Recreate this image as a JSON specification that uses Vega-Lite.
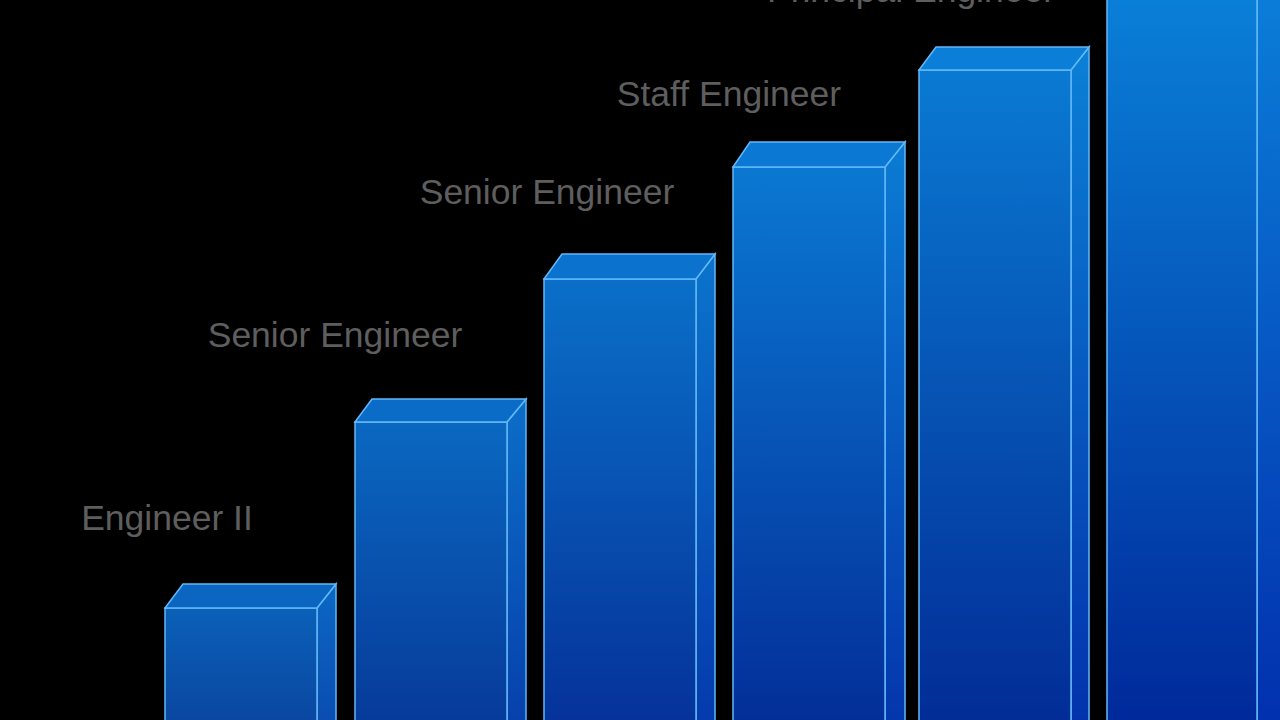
{
 "$schema":"https://vega.github.io/schema/vega-lite/v6.json",
 "width":1280,"height":720,
 "autosize":{"type":"none"},
 "padding":0,
 "background":"#000000",
 "config":{"view":{"stroke":null}},
 "datasets":{
  "front":[
   {"bar":"b1","left":165,"right":317,"top":112,"base":-5},
   {"bar":"b2","left":355,"right":507,"top":298,"base":-5},
   {"bar":"b3","left":544,"right":696,"top":441,"base":-5},
   {"bar":"b4","left":733,"right":885,"top":553,"base":-5},
   {"bar":"b5","left":919,"right":1071,"top":650,"base":-5},
   {"bar":"b6","left":1107,"right":1257,"top":745,"base":-5}
  ],
  "faces":[
   {"bar":"b1","x":165,"y":112,"y2":112},{"bar":"b1","x":183,"y":136,"y2":112},{"bar":"b1","x":317,"y":136,"y2":112},{"bar":"b1","x":336,"y":136,"y2":136},
   {"bar":"b2","x":355,"y":298,"y2":298},{"bar":"b2","x":372,"y":321,"y2":298},{"bar":"b2","x":507,"y":321,"y2":298},{"bar":"b2","x":526,"y":321,"y2":321},
   {"bar":"b3","x":544,"y":441,"y2":441},{"bar":"b3","x":562,"y":466,"y2":441},{"bar":"b3","x":696,"y":466,"y2":441},{"bar":"b3","x":715,"y":466,"y2":466},
   {"bar":"b4","x":733,"y":553,"y2":553},{"bar":"b4","x":750,"y":578,"y2":553},{"bar":"b4","x":885,"y":578,"y2":553},{"bar":"b4","x":905,"y":578,"y2":578},
   {"bar":"b5","x":919,"y":650,"y2":650},{"bar":"b5","x":936,"y":673,"y2":650},{"bar":"b5","x":1071,"y":673,"y2":650},{"bar":"b5","x":1089,"y":673,"y2":673}
  ],
  "sides":[
   {"bar":"b1","x":317,"y":112,"y2":-5},{"bar":"b1","x":336,"y":136,"y2":-5},
   {"bar":"b2","x":507,"y":298,"y2":-5},{"bar":"b2","x":526,"y":321,"y2":-5},
   {"bar":"b3","x":696,"y":441,"y2":-5},{"bar":"b3","x":715,"y":466,"y2":-5},
   {"bar":"b4","x":885,"y":553,"y2":-5},{"bar":"b4","x":905,"y":578,"y2":-5},
   {"bar":"b5","x":1071,"y":650,"y2":-5},{"bar":"b5","x":1089,"y":673,"y2":-5},
   {"bar":"b6","x":1257,"y":745,"y2":-5},{"bar":"b6","x":1282,"y":770,"y2":-5}
  ],
  "labels":[
   {"label":"Engineer II","x":167,"y":201},
   {"label":"Senior Engineer","x":335,"y":384},
   {"label":"Senior Engineer","x":547,"y":527},
   {"label":"Staff Engineer","x":729,"y":625},
   {"label":"Principal Engineer","x":911,"y":729}
  ]
 },
 "layer":[
  {"data":{"name":"labels"},
   "mark":{"type":"text","font":"Liberation Sans","fontSize":35.5,"fill":"#5e5e5e","align":"center","baseline":"middle"},
   "encoding":{"x":{"field":"x","type":"quantitative","scale":{"domain":[0,1280]},"axis":null},
    "y":{"field":"y","type":"quantitative","scale":{"domain":[0,720]},"axis":null},
    "text":{"field":"label"}}},
  {"data":{"name":"sides"},
   "encoding":{"x":{"field":"x","type":"quantitative","scale":{"domain":[0,1280]},"axis":null},
    "y":{"field":"y","type":"quantitative","scale":{"domain":[0,720]},"axis":null,"stack":null},
    "y2":{"field":"y2"}},
   "layer":[
    {"transform":[{"filter":"datum.bar==='b1'"}],"mark":{"type":"area","clip":true,"stroke":"#62b8f8","strokeWidth":1.5,"fill":{"gradient":"linear","x1":0,"y1":0,"x2":0,"y2":1,"stops":[{"offset":0,"color":"#0b68c4"},{"offset":1,"color":"#0b4cb0"}]}}},
    {"transform":[{"filter":"datum.bar==='b2'"}],"mark":{"type":"area","clip":true,"stroke":"#62b8f8","strokeWidth":1.5,"fill":{"gradient":"linear","x1":0,"y1":0,"x2":0,"y2":1,"stops":[{"offset":0,"color":"#0b6ec8"},{"offset":1,"color":"#0740ac"}]}}},
    {"transform":[{"filter":"datum.bar==='b3'"}],"mark":{"type":"area","clip":true,"stroke":"#62b8f8","strokeWidth":1.5,"fill":{"gradient":"linear","x1":0,"y1":0,"x2":0,"y2":1,"stops":[{"offset":0,"color":"#0b74cc"},{"offset":1,"color":"#053aac"}]}}},
    {"transform":[{"filter":"datum.bar==='b4'"}],"mark":{"type":"area","clip":true,"stroke":"#62b8f8","strokeWidth":1.5,"fill":{"gradient":"linear","x1":0,"y1":0,"x2":0,"y2":1,"stops":[{"offset":0,"color":"#0b7cd4"},{"offset":1,"color":"#0436ac"}]}}},
    {"transform":[{"filter":"datum.bar==='b5'"}],"mark":{"type":"area","clip":true,"stroke":"#62b8f8","strokeWidth":1.5,"fill":{"gradient":"linear","x1":0,"y1":0,"x2":0,"y2":1,"stops":[{"offset":0,"color":"#0b80d6"},{"offset":1,"color":"#0333ac"}]}}},
    {"transform":[{"filter":"datum.bar==='b6'"}],"mark":{"type":"area","clip":true,"stroke":"#62b8f8","strokeWidth":1.5,"fill":{"gradient":"linear","x1":0,"y1":0,"x2":0,"y2":1,"stops":[{"offset":0,"color":"#0b82da"},{"offset":1,"color":"#0230ae"}]}}}
   ]},
  {"data":{"name":"front"},
   "encoding":{"x":{"field":"left","type":"quantitative","scale":{"domain":[0,1280]},"axis":null},
    "x2":{"field":"right"},
    "y":{"field":"top","type":"quantitative","scale":{"domain":[0,720]},"axis":null},
    "y2":{"field":"base"}},
   "layer":[
    {"transform":[{"filter":"datum.bar==='b1'"}],"mark":{"type":"rect","clip":true,"stroke":"#62b8f8","strokeWidth":1.5,"fill":{"gradient":"linear","x1":0,"y1":0,"x2":0,"y2":1,"stops":[{"offset":0,"color":"#0a60b8"},{"offset":1,"color":"#0a46a0"}]}}},
    {"transform":[{"filter":"datum.bar==='b2'"}],"mark":{"type":"rect","clip":true,"stroke":"#62b8f8","strokeWidth":1.5,"fill":{"gradient":"linear","x1":0,"y1":0,"x2":0,"y2":1,"stops":[{"offset":0,"color":"#0a68c0"},{"offset":1,"color":"#073a9a"}]}}},
    {"transform":[{"filter":"datum.bar==='b3'"}],"mark":{"type":"rect","clip":true,"stroke":"#62b8f8","strokeWidth":1.5,"fill":{"gradient":"linear","x1":0,"y1":0,"x2":0,"y2":1,"stops":[{"offset":0,"color":"#0a6fc8"},{"offset":1,"color":"#05329a"}]}}},
    {"transform":[{"filter":"datum.bar==='b4'"}],"mark":{"type":"rect","clip":true,"stroke":"#62b8f8","strokeWidth":1.5,"fill":{"gradient":"linear","x1":0,"y1":0,"x2":0,"y2":1,"stops":[{"offset":0,"color":"#0a78d2"},{"offset":1,"color":"#032e98"}]}}},
    {"transform":[{"filter":"datum.bar==='b5'"}],"mark":{"type":"rect","clip":true,"stroke":"#62b8f8","strokeWidth":1.5,"fill":{"gradient":"linear","x1":0,"y1":0,"x2":0,"y2":1,"stops":[{"offset":0,"color":"#0a7ad2"},{"offset":1,"color":"#022c96"}]}}},
    {"transform":[{"filter":"datum.bar==='b6'"}],"mark":{"type":"rect","clip":true,"stroke":"#62b8f8","strokeWidth":1.5,"fill":{"gradient":"linear","x1":0,"y1":0,"x2":0,"y2":1,"stops":[{"offset":0,"color":"#0a82da"},{"offset":1,"color":"#00299a"}]}}}
   ]},
  {"data":{"name":"faces"},
   "mark":{"type":"area","clip":true,"stroke":"#62b8f8","strokeWidth":1.5},
   "encoding":{"x":{"field":"x","type":"quantitative","scale":{"domain":[0,1280]},"axis":null},
    "y":{"field":"y","type":"quantitative","scale":{"domain":[0,720]},"axis":null,"stack":null},
    "y2":{"field":"y2"},
    "fill":{"field":"bar","type":"nominal","legend":null,"scale":{"domain":["b1","b2","b3","b4","b5"],"range":["#0b66c2","#0b6cc8","#0b72ce","#0b78d4","#0b7ed8"]}}}}
 ]
}
